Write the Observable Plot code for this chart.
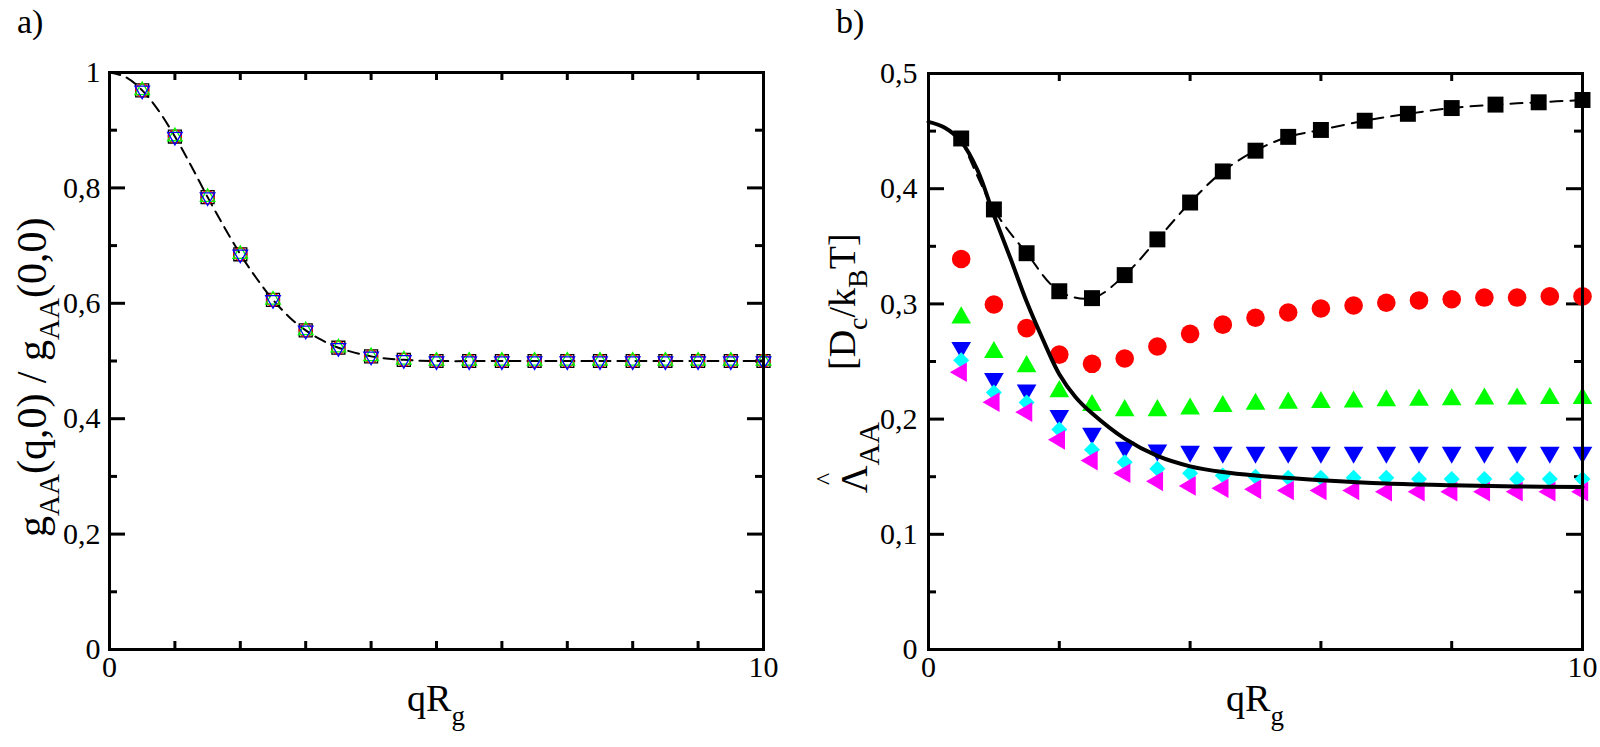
<!DOCTYPE html>
<html><head><meta charset="utf-8">
<script src="https://cdn.jsdelivr.net/npm/d3@7"></script>
<script src="https://cdn.jsdelivr.net/npm/@observablehq/plot@0.6"></script>
</head><body style="margin:0;padding:0;background:#fff">
<div id="wrap" style="display:flex;width:1600px;height:747px;background:#fff"></div>
<script>
// ---------- Panel a data ----------
const qA = [0.5,1,1.5,2,2.5,3,3.5,4,4.5,5,5.5,6,6.5,7,7.5,8,8.5,9,9.5,10];
const gA = [0.969,0.889,0.784,0.685,0.606,0.553,0.523,0.508,0.502,0.500,0.500,0.500,0.500,0.500,0.500,0.500,0.500,0.500,0.500,0.500];
const curveAx = [0,0.25,0.5,0.75,1,1.25,1.5,1.75,2,2.25,2.5,2.75,3,3.25,3.5,4,4.5,5,6,7,8,9,10];
const curveAy = [1.0,0.992,0.969,0.934,0.889,0.838,0.784,0.733,0.685,0.643,0.606,0.576,0.553,0.536,0.523,0.508,0.502,0.500,0.500,0.500,0.500,0.500,0.500];
// ---------- Panel b data ----------
const qB = [0.5,1,1.5,2,2.5,3,3.5,4,4.5,5,5.5,6,6.5,7,7.5,8,8.5,9,9.5,10];
const qSquares = [0.5,1,1.5,2,2.5,3,3.5,4,4.5,5,5.5,6,6.67,7.33,8,8.67,9.33,10];
const lamSquares = [0.4436,0.382,0.344,0.311,0.305,0.325,0.356,0.388,0.415,0.433,0.445,0.451,0.459,0.465,0.470,0.473,0.475,0.477];
const lamCircles = [0.339,0.2995,0.279,0.256,0.248,0.2526,0.263,0.274,0.282,0.288,0.2925,0.296,0.2986,0.301,0.303,0.304,0.3055,0.3055,0.3065,0.3065];
const lamUp = [0.288,0.258,0.2457,0.224,0.212,0.2075,0.2075,0.209,0.211,0.213,0.214,0.2145,0.215,0.216,0.2165,0.217,0.2175,0.2175,0.218,0.218];
const lamDown = [0.262,0.235,0.225,0.203,0.1875,0.1755,0.173,0.172,0.171,0.171,0.171,0.171,0.171,0.171,0.171,0.171,0.171,0.171,0.171,0.171];
const lamDiamond = [0.251,0.223,0.2145,0.191,0.1735,0.1625,0.157,0.153,0.151,0.150,0.149,0.149,0.149,0.149,0.148,0.148,0.148,0.148,0.148,0.148];
const lamLeft = [0.2407,0.2147,0.206,0.182,0.164,0.153,0.146,0.142,0.140,0.139,0.138,0.138,0.138,0.137,0.137,0.137,0.137,0.137,0.137,0.137];
const solidX = [0,0.25,0.5,0.75,1,1.25,1.5,1.75,2,2.25,2.5,3,3.5,4,4.5,5,6,7,8,9,10];
const solidY = [0.458,0.453,0.441,0.416,0.377,0.340,0.302,0.269,0.239,0.219,0.205,0.183,0.168,0.159,0.154,0.151,0.147,0.144,0.1425,0.1415,0.141];
// ---------- ticks ----------
const xLabelsA = [0,10];
const yLabelsA = [0,0.2,0.4,0.6,0.8,1];
const xMinorA = [1,2,3,4,5,6,7,8,9];
const yMajorA = [0.2,0.4,0.6,0.8];
const yMinorA = [0.1,0.3,0.5,0.7,0.9];
const xLabelsB = [0,10];
const yLabelsB = [0,0.1,0.2,0.3,0.4,0.5];
const xMinorB = [2,4,6,8];
const yMajorB = [0.1,0.2,0.3,0.4];
const yMinorB = [0.05,0.15,0.25,0.35,0.45];

const fmt = d => d === 0 ? "0" : Number.isInteger(d) ? String(d) : d.toFixed(1).replace(".", ",");
const zip = (xs, ys) => xs.map((x, i) => ({x, y: ys[i]}));

const triDown = {draw(ctx, size){ const y = -Math.sqrt(size/(3*Math.sqrt(3))); ctx.moveTo(0,-2*y); ctx.lineTo(-Math.sqrt(3)*y, y); ctx.lineTo(Math.sqrt(3)*y, y); ctx.closePath(); }};
const triLeft = {draw(ctx, size){ const y = -Math.sqrt(size/(3*Math.sqrt(3))); ctx.moveTo(2*y,0); ctx.lineTo(-y, -Math.sqrt(3)*y); ctx.lineTo(-y, Math.sqrt(3)*y); ctx.closePath(); }};

const FONT = "Liberation Serif";

function innerTicks(xs, ys, pw, ph) {
  const m = [];
  for (const [vals, len] of xs) {
    m.push(Plot.tickX(vals, {x: d => d, stroke: "#000", strokeWidth: 3, insetTop: ph - len}));
    m.push(Plot.tickX(vals, {x: d => d, stroke: "#000", strokeWidth: 3, insetBottom: ph - len}));
  }
  for (const [vals, len] of ys) {
    m.push(Plot.tickY(vals, {y: d => d, stroke: "#000", strokeWidth: 3, insetRight: pw - len}));
    m.push(Plot.tickY(vals, {y: d => d, stroke: "#000", strokeWidth: 3, insetLeft: pw - len}));
  }
  return m;
}

const wrap = document.getElementById("wrap");

// ---------- Panel a ----------
const mA = {l: 109, r: 37, t: 72, b: 98};
const pwA = 800 - mA.l - mA.r, phA = 747 - mA.t - mA.b;
const dataA = zip(qA, gA);
const plotA = Plot.plot({
  width: 800, height: 747,
  marginLeft: mA.l, marginRight: mA.r, marginTop: mA.t, marginBottom: mA.b,
  style: {fontFamily: FONT, fontSize: "30px"},
  x: {domain: [0,10], ticks: xLabelsA, tickSize: 0, tickPadding: 6, tickFormat: fmt, label: null},
  y: {domain: [0,1], ticks: yLabelsA, tickSize: 0, tickPadding: 9, tickFormat: fmt, label: null},
  marks: [
    ...innerTicks([[xMinorA, 8]], [[yMajorA, 16], [yMinorA, 8]], pwA, phA),
    Plot.line(zip(curveAx, curveAy), {x: "x", y: "y", stroke: "#000", strokeWidth: 2, strokeDasharray: "11,7", curve: "catmull-rom"}),
    Plot.dot(dataA, {x: "x", y: "y", symbol: "square", r: 7.3, stroke: "#000", strokeWidth: 1.3, fill: "none"}),
    Plot.dot(dataA, {x: "x", y: "y", symbol: "circle", r: 6.5, stroke: "#ff0000", strokeWidth: 1.3, fill: "none"}),
    Plot.dot(dataA, {x: "x", y: "y", symbol: "triangle", r: 5.4, stroke: "#00ff00", strokeWidth: 1.3, fill: "none"}),
    Plot.dot(dataA, {x: "x", y: "y", symbol: triDown, r: 5.4, stroke: "#0000ff", strokeWidth: 1.3, fill: "none"}),
    Plot.frame({stroke: "#000", strokeWidth: 3})
  ]
});

// ---------- Panel b ----------
const mB = {l: 128, r: 18, t: 73, b: 98};
const pwB = 800 - mB.l - mB.r, phB = 747 - mB.t - mB.b;
const plotB = Plot.plot({
  width: 800, height: 747,
  marginLeft: mB.l, marginRight: mB.r, marginTop: mB.t, marginBottom: mB.b,
  style: {fontFamily: FONT, fontSize: "30px"},
  x: {domain: [0,10], ticks: xLabelsB, tickSize: 0, tickPadding: 6, tickFormat: fmt, label: null},
  y: {domain: [0,0.5], ticks: yLabelsB, tickSize: 0, tickPadding: 11, tickFormat: fmt, label: null},
  marks: [
    ...innerTicks([[xMinorB, 8]], [[yMajorB, 16], [yMinorB, 8]], pwB, phB),
    Plot.line(zip(qSquares, lamSquares), {x: "x", y: "y", stroke: "#000", strokeWidth: 2, strokeDasharray: "12,8", curve: "catmull-rom"}),
    Plot.dot(zip(qB, lamCircles), {x: "x", y: "y", symbol: "circle", r: 9.3, fill: "#ff0000"}),
    Plot.dot(zip(qB, lamUp), {x: "x", y: "y", symbol: "triangle", r: 7.3, fill: "#00ff00"}),
    Plot.dot(zip(qB, lamDown), {x: "x", y: "y", symbol: triDown, r: 7.3, fill: "#0000ff"}),
    Plot.dot(zip(qB, lamDiamond), {x: "x", y: "y", symbol: "diamond2", r: 7.2, fill: "#00ffff"}),
    Plot.dot(zip(qB, lamLeft), {x: "x", y: "y", symbol: triLeft, r: 7.3, fill: "#ff00ff"}),
    Plot.line(zip(solidX, solidY), {x: "x", y: "y", stroke: "#000", strokeWidth: 4, curve: "catmull-rom"}),
    Plot.dot(zip(qSquares, lamSquares), {x: "x", y: "y", symbol: "square", r: 9, fill: "#000"}),
    Plot.frame({stroke: "#000", strokeWidth: 3})
  ]
});

// ---------- texts ----------
function addText(svg, x, y, parts, opts = {}) {
  const t = d3.select(svg).append("text")
    .attr("x", x).attr("y", y)
    .attr("font-family", FONT).attr("font-size", opts.size || 38)
    .attr("fill", "#000")
    .attr("text-anchor", opts.anchor || "middle");
  if (opts.rotate) t.attr("transform", `rotate(${opts.rotate},${x},${y})`);
  for (const p of parts) {
    const s = t.append("tspan").text(p.t);
    if (p.size) s.attr("font-size", p.size);
    if (p.dy) s.attr("dy", p.dy);
  }
  return t;
}
addText(plotA, 17, 33, [{t: "a)"}], {size: 34, anchor: "start"});
addText(plotB, 36, 33, [{t: "b)"}], {size: 34, anchor: "start"});
const xTitle = [{t: "qR"}, {t: "g", size: 27, dy: 14}];
addText(plotA, 436, 711, xTitle, {size: 38});
addText(plotB, 455, 711, xTitle, {size: 38});
addText(plotA, 46, 537, [
  {t: "g"}, {t: "AA", size: 29, dy: 13}, {t: "(q,0) / g", dy: -13}, {t: "AA", size: 29, dy: 13}, {t: "(0,0)", dy: -13}
], {size: 42, anchor: "start", rotate: -90});
addText(plotB, 67, 493, [{t: "Λ"}, {t: "AA", size: 30, dy: 12}], {size: 38, anchor: "start", rotate: -90});
addText(plotB, 34, 479, [{t: "^"}], {size: 26, anchor: "middle", rotate: -90});
addText(plotB, 55, 370, [
  {t: "[D"}, {t: "c", size: 28, dy: 12}, {t: "/k", dy: -12}, {t: "B", size: 28, dy: 12}, {t: "T]", dy: -12}
], {size: 38, anchor: "start", rotate: -90});

for (const svg of [plotA, plotB]) {
  svg.style.flex = "none";
  svg.setAttribute("font-family", FONT);
  svg.querySelectorAll("text, tspan").forEach(el => { el.style.fontFamily = FONT; });
  wrap.appendChild(svg);
}
</script></body></html>
